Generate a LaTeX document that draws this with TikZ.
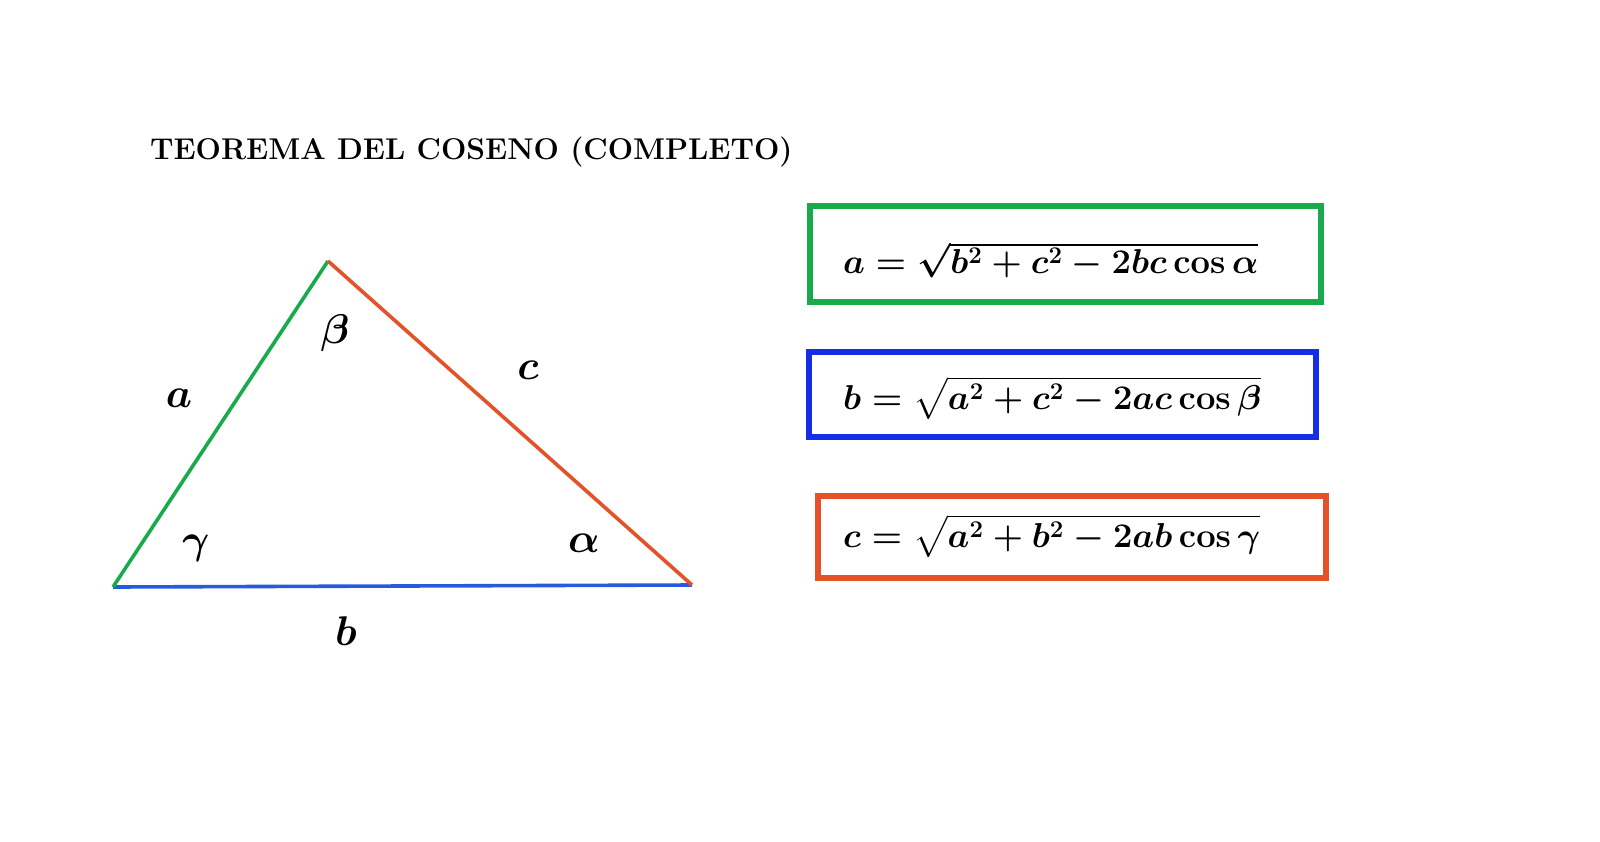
\documentclass[tikz,border=0pt]{standalone}
\usepackage{amsmath}
\begin{document}
\begin{tikzpicture}[x=0.5pt,y=-0.5pt,
  lab/.style={font=\fontsize{20}{24}\selectfont\boldmath},
  form/.style={font=\fontsize{16.5}{20}\selectfont\boldmath,anchor=west},
  fbox/.style={line width=2.6pt},
  side/.style={line width=1.8pt}]
\definecolor{gr}{RGB}{25,170,75}
\definecolor{bl}{RGB}{20,45,230}
\definecolor{rd}{RGB}{228,82,40}
\definecolor{tb}{RGB}{40,90,220}
\useasboundingbox (0,0) rectangle (1600,841);
\coordinate (A) at (113,587);
\coordinate (B) at (328,261);
\coordinate (C) at (692,585);
\draw[side,tb] (A) -- (C);
\draw[side,gr] (A) -- (B);
\draw[side,rd] (B) -- (C);
\node[anchor=west,font=\fontsize{15}{18}\selectfont\bfseries] (t) at (143,152) {TEOREMA DEL COSENO (COMPLETO)};
\node[lab] (la) at (179,398) {$a$};
\node[lab] (lbe) at (335,333) {$\beta$};
\node[lab] (lc) at (528,370) {$c$};
\node[lab] (lg) at (196,548) {$\gamma$};
\node[lab] (lal) at (584,543) {$\alpha$};
\node[lab] (lb) at (346,631) {$b$};
\draw[fbox,gr] (810,206) rectangle (1321,302);
\draw[fbox,bl] (809,352) rectangle (1316,437);
\draw[fbox,rd] (818,496) rectangle (1326,578);
\node[form] (f1) at (836,260) {$a=\sqrt{b^2+c^2-2bc\cos\alpha}$};
\node[form] (f2) at (836,398) {$b=\sqrt{a^2+c^2-2ac\cos\beta}$};
\node[form] (f3) at (836,536) {$c=\sqrt{a^2+b^2-2ab\cos\gamma}$};
\end{tikzpicture}
\end{document}
